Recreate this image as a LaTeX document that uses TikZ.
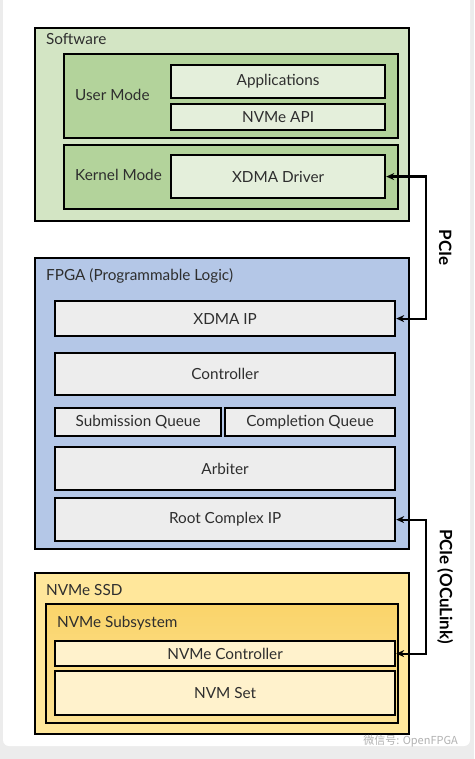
\documentclass[tikz,border=0pt]{standalone}
\usepackage{fontspec}
\setmainfont{Lato}
\newfontfamily\cjkfont{Noto Sans CJK SC}
\usetikzlibrary{arrows.meta,positioning,calc}
\definecolor{swgreen}{HTML}{D3E5C4}
\definecolor{modegreen}{HTML}{B3D39B}
\definecolor{palegreen}{HTML}{E4EFDB}
\definecolor{fpgablue}{HTML}{B4C7E7}
\definecolor{ipgray}{HTML}{EDEDED}
\definecolor{ssdyellow}{HTML}{FFE79B}
\definecolor{subtop}{HTML}{FAD46A}
\definecolor{subbot}{HTML}{FCE294}
\definecolor{cream}{HTML}{FFF2CC}
\definecolor{txtgray}{HTML}{2E2E2E}
\tikzset{
  blk/.style={draw=black, line width=2.2pt, anchor=north west, inner sep=0pt, text=txtgray, font=\fontsize{15.3}{18}\selectfont},
  title/.style={inner sep=0pt, text=txtgray, font=\fontsize{15.3}{18}\selectfont},
  link/.style={{Stealth[length=8pt,width=7pt]}-{Stealth[length=8pt,width=7pt]}, line width=2.2pt},
  buslbl/.style={rotate=-90, inner sep=0pt, font=\bfseries\fontsize{17}{20}\selectfont}
}
\begin{document}
\begin{tikzpicture}[x=1pt,y=-1pt]
  \useasboundingbox (0,0) rectangle (474,759);
  \fill[gray!15] (0,0) rectangle (474,759);
  \fill[white, rounded corners=6pt] (3,-10) rectangle (470,746);
  % software
  \node[blk, fill=swgreen, minimum width=374, minimum height=193] (sw) at (34,27) {};
  \node[title, anchor=west] (swlbl) at (46,39) {Software};
  \node[blk, fill=modegreen, minimum width=334, minimum height=84] (user) at (63,53) {};
  \node[blk, fill=palegreen, minimum width=214, minimum height=33] (apps) at (170,64) {Applications};
  \node[blk, fill=palegreen, minimum width=214, minimum height=26] (api) at (170,103) {NVMe API};
  \node[title, anchor=west] (userlbl) at (75,95) {User Mode};
  \node[blk, fill=modegreen, minimum width=334, minimum height=64] (kernel) at (63,144) {};
  \node[blk, fill=palegreen, minimum width=214, minimum height=43] (drv) at (170,154) {XDMA Driver};
  \node[title, anchor=west] (kernlbl) at (75,175) {Kernel Mode};
  % fpga
  \node[blk, fill=fpgablue, minimum width=374, minimum height=291] (fpga) at (34,257) {};
  \node[title, anchor=west] (fpgalbl) at (46,276) {FPGA (Programmable Logic)};
  \node[blk, fill=ipgray, minimum width=340, minimum height=35] (xdmaip) at (54,300) {XDMA IP};
  \node[blk, fill=ipgray, minimum width=340, minimum height=42] (ctrl) at (54,352) {Controller};
  \node[blk, fill=ipgray, minimum width=166, minimum height=28] (sq) at (54,407) {Submission Queue};
  \node[blk, fill=ipgray, minimum width=170, minimum height=28] (cq) at (224,407) {Completion Queue};
  \node[blk, fill=ipgray, minimum width=340, minimum height=43] (arb) at (54,446) {Arbiter};
  \node[blk, fill=ipgray, minimum width=340, minimum height=43] (rc) at (54,497) {Root Complex IP};
  % ssd
  \node[blk, fill=ssdyellow, minimum width=374, minimum height=161] (ssd) at (34,572) {};
  \node[title, anchor=west] (ssdlbl) at (46,590) {NVMe SSD};
  \node[blk, top color=subtop, bottom color=subbot, minimum width=352, minimum height=119] (subsys) at (45,603) {};
  \node[title, anchor=west] (sublbl) at (57,623) {NVMe Subsystem};
  \node[blk, fill=cream, minimum width=340, minimum height=25] (nvmectrl) at (54,640) {NVMe Controller};
  \node[blk, fill=cream, minimum width=340, minimum height=44] (nvmset) at (54,670) {NVM Set};
  % links
  \draw[link] (drv.east) -- ++(40,0) coordinate (busA) |- (xdmaip.east);
  \node[buslbl] (pcie) at ($(busA)!0.5!(busA |- xdmaip.east) + (19,0)$) {PCIe};
  \draw[link] (rc.east) -- ++(30,0) coordinate (busB) |- (nvmectrl.east);
  \node[buslbl] (ocu) at ($(busB)!0.5!(busB |- nvmectrl.east) + (19,0)$) {PCIe (OCuLink)};
  \node[anchor=east, inner sep=0pt, text=gray!60, font=\cjkfont\fontsize{11}{13}\selectfont] (wm) at (458,741) {微信号: OpenFPGA};
\end{tikzpicture}
\end{document}
